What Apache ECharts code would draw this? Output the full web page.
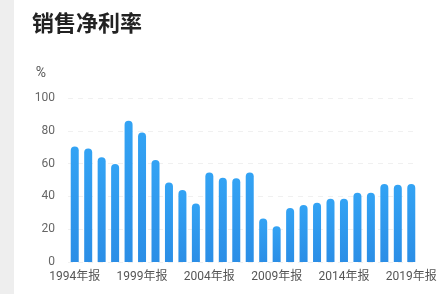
<!DOCTYPE html>
<html><head><meta charset="utf-8">
<script src="https://cdn.jsdelivr.net/npm/echarts@6/dist/echarts.min.js"></script>
<style>
html,body{margin:0;padding:0;background:#fff;}
#strip{position:absolute;left:0;top:0;width:14px;height:294px;background:#eeeeee;}
#c{position:absolute;left:0;top:0;width:445px;height:294px;}
</style></head>
<body>
<div id="strip"></div>
<div id="c"></div>
<script>
const categories = ['1994年报','1995年报','1996年报','1997年报','1998年报','1999年报','2000年报','2001年报','2002年报','2003年报','2004年报','2005年报','2006年报','2007年报','2008年报','2009年报','2010年报','2011年报','2012年报','2013年报','2014年报','2015年报','2016年报','2017年报','2018年报','2019年报'];
const netMargin = [70.4,69.2,63.9,59.8,86.1,79.0,62.2,48.4,43.9,35.7,54.5,51.4,51.0,54.5,26.5,21.8,33.0,34.7,36.1,38.6,38.6,42.2,42.2,47.6,47.1,47.6];
const yTicks = {min:0, max:100, interval:20};

const chart = echarts.init(document.getElementById('c'), null, {renderer:'canvas'});
chart.setOption({
  backgroundColor:'transparent',
  animation:false,
  title:{text:'销售净利率', left:27, top:7, textStyle:{fontSize:22, fontWeight:'bold', color:'#222', fontFamily:'Noto Sans CJK SC'}},
  grid:{left:68, right:27, top:98, bottom:32, containLabel:false},
  xAxis:{type:'category', data:categories,
    axisLine:{show:false}, axisTick:{show:false},
    axisLabel:{interval:4, color:'#555', fontSize:12, margin:9, fontFamily:'Roboto, Noto Sans CJK SC'}},
  yAxis:{type:'value', min:yTicks.min, max:yTicks.max, interval:yTicks.interval,
    name:'%', nameLocation:'end', nameGap:18,
    nameTextStyle:{color:'#555', fontSize:14, align:'right', padding:[0,22,0,0], fontFamily:'Roboto'},
    axisLine:{show:false}, axisTick:{show:false},
    axisLabel:{color:'#666', fontSize:12, margin:13, fontFamily:'Roboto'},
    splitLine:{lineStyle:{color:'#f0f0f0', type:[5,5], width:1}}},
  series:[{type:'bar', data:netMargin, barWidth:8,
    itemStyle:{borderRadius:[4,4,0,0],
      color:new echarts.graphic.LinearGradient(0,0,0,1,[{offset:0,color:'#33a3f4'},{offset:1,color:'#2b8ee6'}])}}]
});
</script>
</body></html>
